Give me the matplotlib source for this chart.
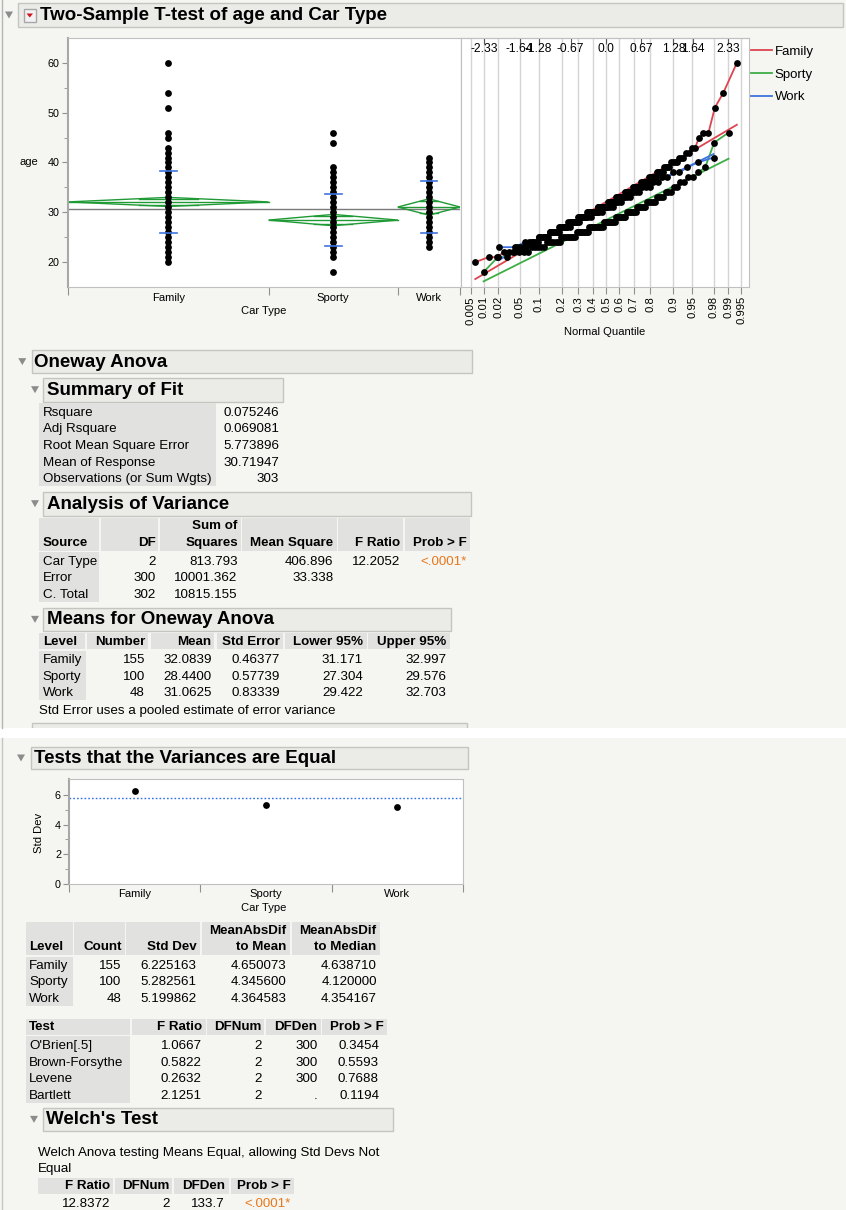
import numpy as np
import matplotlib
matplotlib.use('Agg')
import matplotlib.pyplot as plt
from matplotlib.patches import Rectangle, Polygon
from matplotlib.lines import Line2D
from statistics import NormalDist

plt.rcParams['font.family'] = ['Liberation Sans', 'DejaVu Sans']

groups = ['Family', 'Sporty', 'Work']
group_n = [155, 100, 48]
group_mean = [32.0839, 28.4400, 31.0625]
lower95 = [31.171, 27.304, 29.422]
upper95 = [32.997, 29.576, 32.703]
group_sd = [6.225163, 5.282561, 5.199862]
grand_mean = 30.71947
rmse = 5.773896

# eta' osservate (valori distinti) e quante volte compaiono, stimate dal grafico
family_ages = [20, 21, 22, 23, 24, 25, 26, 27, 28, 29, 30, 31, 32, 33, 34, 35, 36, 37,
               38, 39, 40, 41, 42, 43, 45, 46, 51, 54, 60]
family_counts = [1, 2, 3, 4, 5, 6, 7, 8, 9, 10, 12, 12, 10, 10, 9, 8, 7, 6,
                 5, 4, 4, 3, 2, 2, 1, 2, 1, 1, 1]
sporty_ages = [18, 21, 22, 23, 24, 25, 26, 27, 28, 29, 30, 31, 32, 33, 34, 35, 36, 37,
               38, 39, 44, 46]
sporty_counts = [1, 2, 4, 5, 7, 9, 9, 11, 9, 8, 7, 6, 5, 4, 3, 2, 2, 2, 1, 1, 1, 1]
work_ages = [23, 24, 25, 26, 27, 28, 29, 30, 31, 32, 33, 34, 35, 36, 37, 38, 39, 40, 41]
work_counts = [2, 2, 2, 3, 3, 3, 4, 4, 4, 3, 3, 3, 3, 2, 2, 2, 1, 1, 1]

prob_ticks = [0.005, 0.01, 0.02, 0.05, 0.1, 0.2, 0.3, 0.4, 0.5, 0.6, 0.7, 0.8,
              0.9, 0.95, 0.98, 0.99, 0.995]
z_ticks = [-2.326, -1.645, -1.282, -0.674, 0.0, 0.674, 1.282, 1.645, 2.326]
z_labels = ['-2.33', '-1.64', '-1.28', '-0.67', '0.0', '0.67', '1.28', '1.64', '2.33']

fit_labels = ['Rsquare', 'Adj Rsquare', 'Root Mean Square Error', 'Mean of Response',
              'Observations (or Sum Wgts)']
fit_values = ['0.075246', '0.069081', '5.773896', '30.71947', '303']

anova_rows = [['Car Type', '2', '813.793', '406.896', '12.2052', '<.0001*'],
              ['Error', '300', '10001.362', '33.338', '', ''],
              ['C. Total', '302', '10815.155', '', '', '']]

means_rows = [['Family', '155', '32.0839', '0.46377', '31.171', '32.997'],
              ['Sporty', '100', '28.4400', '0.57739', '27.304', '29.576'],
              ['Work', '48', '31.0625', '0.83339', '29.422', '32.703']]

sd_rows = [['Family', '155', '6.225163', '4.650073', '4.638710'],
           ['Sporty', '100', '5.282561', '4.345600', '4.120000'],
           ['Work', '48', '5.199862', '4.364583', '4.354167']]

test_rows = [["O'Brien[.5]", '1.0667', '2', '300', '0.3454'],
             ['Brown-Forsythe', '0.5822', '2', '300', '0.5593'],
             ['Levene', '0.2632', '2', '300', '0.7688'],
             ['Bartlett', '2.1251', '2', '.', '0.1194']]

welch_row = ['12.8372', '2', '133.7', '<.0001*']

# --- stile ---
BG = '#f5f5f2'
BAR = '#ebebe7'
BAR_EDGE = '#c4c4c0'
CELL = '#e1e1df'
ORANGE = '#e8771a'
COLORS = ['#dc4450', '#3cae46', '#3f73e0']
DIAMOND = '#1f9a35'
TS = 13.4 * 0.72   # testo tabelle
HS = 18.8 * 0.72   # titoli sezioni
AS = 11.2 * 0.72   # testo assi

W, H = 846, 1210
fig = plt.figure(figsize=(W / 100, H / 100), dpi=100, facecolor=BG)
bg = fig.add_axes([0, 0, 1, 1])
bg.set_xlim(0, W)
bg.set_ylim(H, 0)
bg.axis('off')


def box(x0, y0, x1, y1):
    return fig.add_axes([x0 / W, 1 - y1 / H, (x1 - x0) / W, (y1 - y0) / H])


def rect(x0, y0, x1, y1, fc, ec='none', lw=1.0):
    bg.add_patch(Rectangle((x0, y0), x1 - x0, y1 - y0, facecolor=fc, edgecolor=ec, linewidth=lw))


def tri(cx, cy, w=8, h=7):
    bg.add_patch(Polygon([(cx - w / 2, cy - h / 2), (cx + w / 2, cy - h / 2), (cx, cy + h / 2)],
                         closed=True, facecolor='#8c8c8c', edgecolor='none'))


def txt(x, y, s, ha='left', bold=False, color='black', size=TS):
    bg.text(x, y, s, ha=ha, va='center', fontsize=size, color=color,
            fontweight='bold' if bold else 'normal')


def header(x0, x1, y0, y1, title, tx, trix):
    rect(x0, y0, x1, y1, BAR, BAR_EDGE)
    txt(tx, (y0 + y1) / 2 + 0.5, title, bold=True, size=HS)
    tri(trix, (y0 + y1) / 2)


# bordo sinistro e striscia bianca tra le due schermate
bg.plot([1.5, 1.5], [0, 728], color='#b5b5b5', lw=1)
bg.plot([1.5, 1.5], [738, H], color='#c5c5c5', lw=1)

# --- titolo principale ---
header(18, 843, 3, 27, 'Two-Sample T-test of age and Car Type', 40, 9)
rect(23.5, 9, 36, 22, '#f2f2f2', '#a8a8a8')
bg.add_patch(Polygon([(26.5, 13.5), (33, 13.5), (29.75, 17.5)], closed=True,
                     facecolor='#d0141c', edgecolor='none'))

# --- grafico a punti con diamanti ---
ax1 = box(68, 38, 460, 287)
edges = np.concatenate([[0], np.cumsum(group_n)])
centers = (edges[:-1] + edges[1:]) / 2
all_ages = [family_ages, sporty_ages, work_ages]
all_counts = [family_counts, sporty_counts, work_counts]

ax1.axhline(grand_mean, color='#7a7a7a', lw=1, zorder=1)
for i in range(3):
    x0, x1, xc = edges[i], edges[i + 1], centers[i]
    m, lo, hi = group_mean[i], lower95[i], upper95[i]
    ax1.add_patch(Polygon([(x0, m), (xc, hi), (x1, m), (xc, lo)], closed=True,
                          facecolor='none', edgecolor=DIAMOND, lw=1.0, zorder=2))
    ax1.plot([x0, x1], [m, m], color=DIAMOND, lw=1.0, zorder=2)
    d = (hi - m) / np.sqrt(2)
    hw = (x1 - x0) / 2 * (1 - 1 / np.sqrt(2))
    for yy in (m + d, m - d):
        ax1.plot([xc - hw, xc + hw], [yy, yy], color=DIAMOND, lw=1.0, zorder=2)
    ax1.scatter(np.full(len(all_ages[i]), xc), all_ages[i], s=24, color='black',
                zorder=3, linewidths=0)
    for yy in (m - group_sd[i], m + group_sd[i]):
        ax1.plot([xc - 6.5, xc + 6.5], [yy, yy], color='#3f73e0', lw=1.2, zorder=4)

ax1.set_xlim(0, edges[-1])
ax1.set_ylim(15, 65)
ax1.set_yticks([20, 30, 40, 50, 60])
ax1.set_yticks([25, 35, 45, 55], minor=True)
ax1.set_xticks(edges)
ax1.set_xticklabels([])
ax1.set_xticks(centers, minor=True)
ax1.set_xticklabels(groups, minor=True)
ax1.tick_params(axis='y', which='major', length=4, color='#909090', labelsize=10.8 * 0.72, pad=2)
ax1.tick_params(axis='y', which='minor', length=3, color='#909090')
ax1.tick_params(axis='x', which='major', length=6, color='#909090')
ax1.tick_params(axis='x', which='minor', length=0, labelsize=AS, pad=4)
for side in ['top', 'bottom']:
    ax1.spines[side].set_color('#c0c0c0')
ax1.spines['left'].set_color('#a8a8a8')
ax1.spines['left'].set_linewidth(1.5)
ax1.spines['right'].set_visible(False)
ax1.set_ylabel('age', rotation=0, fontsize=AS, ha='center', va='center')
ax1.yaxis.set_label_coords(-0.0995, 0.502)
ax1.set_xlabel('Car Type', fontsize=AS, va='center')
ax1.xaxis.set_label_coords(0.5, -0.0964)

# --- grafico dei quantili normali ---
ax2 = box(461, 38, 749, 287)
nd = NormalDist()
prob_z = [nd.inv_cdf(p) for p in prob_ticks]
for zz in prob_z:
    ax2.axvline(zz, color='#d4d4d4', lw=1, zorder=0)
handles = []
for i in range(3):
    vals = np.repeat(all_ages[i], all_counts[i])
    n = len(vals)
    zq = np.array([nd.inv_cdf(k / (n + 1)) for k in range(1, n + 1)])
    ax2.plot(zq, vals, color=COLORS[i], lw=1.3, zorder=2)
    zf = np.array([zq[0], zq[-1]])
    ax2.plot(zf, group_mean[i] + group_sd[i] * zf, color=COLORS[i], lw=1.3, zorder=2)
    ax2.scatter(zq, vals, s=24, color='black', zorder=3, linewidths=0)
    handles.append(Line2D([], [], color=COLORS[i], lw=1.3))

ax2.set_xlim(-2.76, 2.72)
ax2.set_ylim(15, 65)
ax2.set_yticks([])
ax2.set_xticks(prob_z)
ax2.set_xticklabels([f'{p:g}' for p in prob_ticks], rotation=90, va='top')
ax2.tick_params(axis='x', length=5, color='#909090', labelsize=AS, pad=1.5)
for side in ['top', 'bottom', 'left', 'right']:
    ax2.spines[side].set_color('#c0c0c0')
ax2.set_xlabel('Normal Quantile', fontsize=AS, va='center')
ax2.xaxis.set_label_coords(0.5, (287 - 332.3) / 249)
sec = ax2.secondary_xaxis('top')
sec.set_xticks(z_ticks, z_labels)
sec.tick_params(direction='in', length=4, color='#555555', labelsize=12 * 0.72, pad=-12.5)
sec.spines['top'].set_color('#c0c0c0')
ax2.legend(handles, groups, loc='upper left', bbox_to_anchor=(751 / W, 1 - 45.5 / H),
           bbox_transform=fig.transFigure, frameon=False, fontsize=9.5,
           handlelength=1.56, handletextpad=0.25, labelspacing=0.8,
           borderpad=0, borderaxespad=0)

# --- Oneway Anova ---
header(31.7, 471.7, 350, 373.3, 'Oneway Anova', 34.3, 22.3)
header(43.3, 283.3, 377.7, 401.7, 'Summary of Fit', 46.7, 35)
rect(39.3, 403.3, 216, 486, CELL)
fit_y = [412.7, 429.3, 446, 462.7, 479.3]
for lab, val, yy in zip(fit_labels, fit_values, fit_y):
    txt(42.7, yy, lab)
    txt(279.3, yy, val, ha='right')

header(43.3, 470.7, 491.7, 515.7, 'Analysis of Variance', 46.7, 35)
anova_cells = [(39.3, 99.3), (101, 158.3), (160, 240.7), (242.3, 336.7), (338.3, 403.3), (405, 470)]
for x0, x1 in anova_cells:
    rect(x0, 517.7, x1, 550.7, CELL)
rect(39.3, 551.7, 99.3, 601.7, CELL)
anova_right = [155.5, 237.7, 333.3, 400, 466.7]
txt(42.7, 542.7, 'Source', bold=True)
txt(anova_right[0], 542.7, 'DF', ha='right', bold=True)
txt(anova_right[1], 526, 'Sum of', ha='right', bold=True)
txt(anova_right[1], 542.7, 'Squares', ha='right', bold=True)
txt(anova_right[2], 542.7, 'Mean Square', ha='right', bold=True)
txt(anova_right[3], 542.7, 'F Ratio', ha='right', bold=True)
txt(anova_right[4], 542.7, 'Prob > F', ha='right', bold=True)
for row, yy in zip(anova_rows, [561.7, 578.3, 595]):
    txt(42.7, yy, row[0])
    for j, v in enumerate(row[1:]):
        txt(anova_right[j], yy, v, ha='right', color=ORANGE if v.startswith('<') else 'black')

header(43.3, 450.7, 607.7, 631, 'Means for Oneway Anova', 46.7, 35)
means_cells = [(39.3, 85), (87.3, 148.3), (150.7, 214.3), (216.7, 282.7), (285, 366.7), (368.3, 450)]
for x0, x1 in means_cells:
    rect(x0, 633.3, x1, 649.3, CELL)
rect(39.3, 650.7, 86, 700, CELL)
means_head = ['Number', 'Mean', 'Std Error', 'Lower 95%', 'Upper 95%']
means_right = [145, 211.7, 280, 362.7, 446]
txt(42.7, 641.7, 'Level', bold=True)
for h_, xr in zip(means_head, means_right):
    txt(xr, 641.7, h_, ha='right', bold=True)
for row, yy in zip(means_rows, [660, 676.7, 693.3]):
    txt(42.7, yy, row[0])
    for v, xr in zip(row[1:], means_right):
        txt(xr, yy, v, ha='right')
txt(39.3, 711, 'Std Error uses a pooled estimate of error variance')

# barra tagliata e stacco bianco
rect(31.7, 723, 466.7, 736, BAR, BAR_EDGE)
rect(0, 728, W, 738, 'white')

# --- Tests that the Variances are Equal ---
header(30.7, 467.7, 746.7, 769.3, 'Tests that the Variances are Equal', 34.3, 21)
ax3 = box(69.3, 779.3, 462.7, 884.3)
xs = np.arange(3) + 0.5
ax3.axhline(rmse, color='#2f6fe8', lw=1, linestyle=(0, (1.2, 1.5)))
ax3.scatter(xs, group_sd, s=24, color='black', zorder=3, linewidths=0)
ax3.set_xlim(0, 3)
ax3.set_ylim(0, 7.03)
ax3.set_yticks([0, 2, 4, 6])
ax3.set_yticks([1, 3, 5], minor=True)
ax3.set_xticks([0, 1, 2, 3])
ax3.set_xticklabels([])
ax3.set_xticks(xs, minor=True)
ax3.set_xticklabels(groups, minor=True)
ax3.tick_params(axis='y', which='major', length=4, color='#909090', labelsize=10.8 * 0.72, pad=2)
ax3.tick_params(axis='y', which='minor', length=3, color='#909090')
ax3.tick_params(axis='x', which='major', length=6, color='#909090')
ax3.tick_params(axis='x', which='minor', length=0, labelsize=AS, pad=3.5)
for side in ['top', 'bottom', 'left', 'right']:
    ax3.spines[side].set_color('#c0c0c0')
ax3.spines['left'].set_color('#a8a8a8')
ax3.spines['left'].set_linewidth(1.5)
ax3.set_ylabel('Std Dev', fontsize=AS, va='center')
ax3.yaxis.set_label_coords(-0.077, 0.486)
ax3.set_xlabel('Car Type', fontsize=AS, va='center')
ax3.xaxis.set_label_coords(0.493, -0.229)

# tabella deviazioni standard
sd_cells = [(26, 72.7), (74, 125), (126, 200), (201.7, 290), (291.7, 380)]
for x0, x1 in sd_cells:
    rect(x0, 921.7, x1, 955, CELL)
rect(26, 956.7, 72.7, 1006, CELL)
sd_right = [121.7, 196.7, 286.7, 376.7]
txt(29.3, 947.3, 'Level', bold=True)
txt(sd_right[0], 947.3, 'Count', ha='right', bold=True)
txt(sd_right[1], 947.3, 'Std Dev', ha='right', bold=True)
txt(sd_right[2], 930.7, 'MeanAbsDif', ha='right', bold=True)
txt(sd_right[2], 947.3, 'to Mean', ha='right', bold=True)
txt(sd_right[3], 930.7, 'MeanAbsDif', ha='right', bold=True)
txt(sd_right[3], 947.3, 'to Median', ha='right', bold=True)
for row, yy in zip(sd_rows, [965.7, 982.3, 999]):
    txt(29.3, yy, row[0])
    for v, xr in zip(row[1:], sd_right):
        txt(xr, yy, v, ha='right')

# tabella dei test
test_cells = [(26, 130), (131.7, 205.7), (207.3, 264.3), (266, 320.7), (322.3, 387.3)]
for x0, x1 in test_cells:
    rect(x0, 1019, x1, 1035, CELL)
rect(26, 1036, 130, 1102.7, CELL)
test_head = ['F Ratio', 'DFNum', 'DFDen', 'Prob > F']
test_head_right = [201.7, 261.7, 317.3, 384]
test_right = [201.7, 261.7, 317.3, 379]
txt(29.3, 1027.3, 'Test', bold=True)
for h_, xr in zip(test_head, test_head_right):
    txt(xr, 1027.3, h_, ha='right', bold=True)
for row, yy in zip(test_rows, [1046, 1062.7, 1079.3, 1096]):
    txt(29.3, yy, row[0])
    for v, xr in zip(row[1:], test_right):
        txt(xr, yy, v, ha='right')

# --- Welch's Test ---
header(43.3, 392.7, 1107.7, 1131, "Welch's Test", 46, 34)
txt(38.3, 1152.7, 'Welch Anova testing Means Equal, allowing Std Devs Not')
txt(38.3, 1169.3, 'Equal')
welch_cells = [(38.3, 113.3), (115, 172.3), (174, 229), (230.7, 294.3)]
for x0, x1 in welch_cells:
    rect(x0, 1177.7, x1, 1194, CELL)
welch_right = [110, 169.3, 225, 291]
for h_, xr in zip(['F Ratio', 'DFNum', 'DFDen', 'Prob > F'], welch_right):
    txt(xr, 1186, h_, ha='right', bold=True)
for v, xr in zip(welch_row, welch_right):
    txt(xr, 1204.3, v, ha='right', color=ORANGE if v.startswith('<') else 'black')

fig.savefig('out.png', dpi=100, facecolor=BG)
